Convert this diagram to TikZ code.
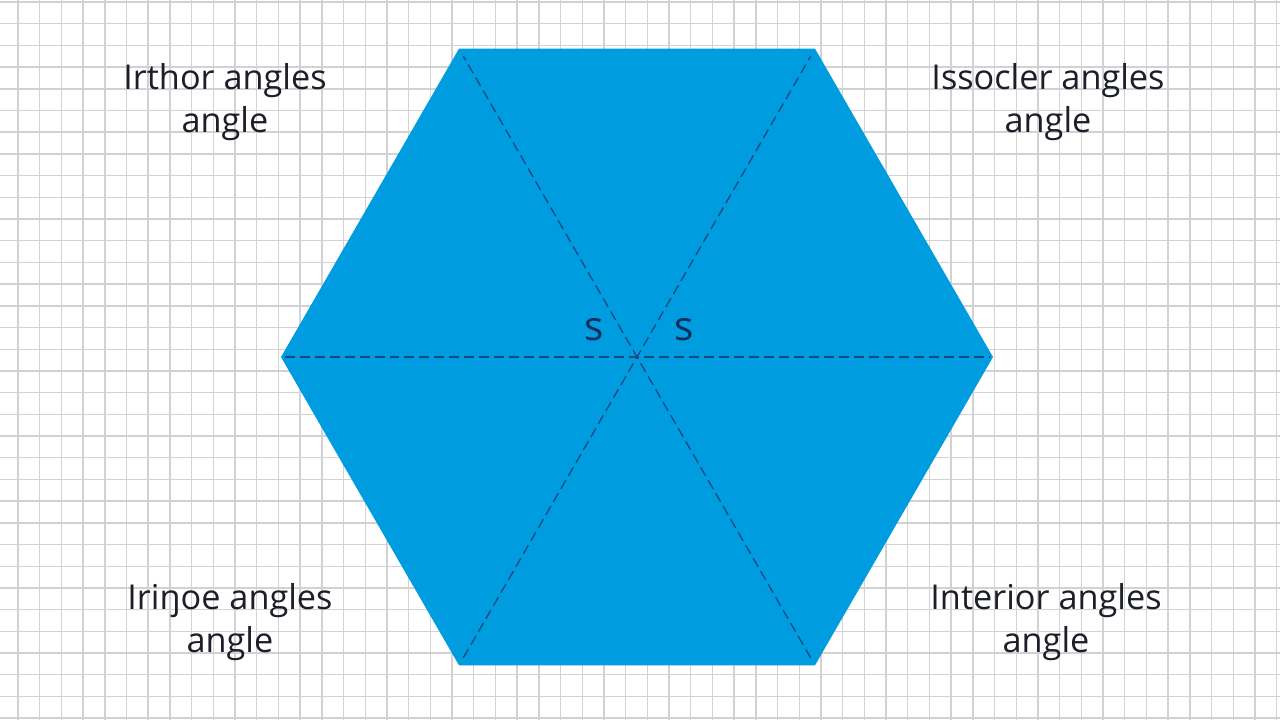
\documentclass[tikz,border=0pt]{standalone}
\usepackage{fontspec}
\setmainfont{Open Sans}
\usepackage{tikz}
\tikzset{>=latex}
\definecolor{hexblue}{RGB}{0,156,224}
\definecolor{dashblue}{RGB}{30,72,130}
\definecolor{gridgray}{RGB}{210,210,212}
\definecolor{labelink}{RGB}{28,30,40}
\definecolor{sideink}{RGB}{18,45,92}

\begin{document}
\begin{tikzpicture}[x=0.02cm,y=-0.02cm,
    gridline/.style={gridgray,line width=0.8pt},
    diag/.style={dashblue,line width=0.75pt,dash pattern=on 0.2cm off 0.1cm},
    lbl/.style={labelink,align=center,font=\fontsize{19.5}{24.5}\selectfont,inner sep=0pt},
    sidelbl/.style={sideink,font=\fontsize{23}{24}\selectfont,inner sep=0pt}]
       \useasboundingbox (0,0) rectangle (1280,720);
       \fill[white] (0,0) rectangle (1280,720);
       \foreach \i in {0,...,58} \draw[gridline] ({18+21.7*\i},0) -- ++(0,720);
       \foreach \j in {0,...,33} \draw[gridline] (0,{2+21.7*\j}) -- ++(1280,0);
       \coordinate (O) at (637,357);
       \foreach \k in {1,...,6} \coordinate (V\k) at ([shift={(O)}]60*\k:356);
       \fill[hexblue] (V1) -- (V2) -- (V3) -- (V4) -- (V5) -- (V6) -- cycle;
       \draw[diag,shorten <=5pt,shorten >=5pt] (V1) -- (V4);
       \draw[diag,shorten <=5pt,shorten >=5pt] (V2) -- (V5);
       \draw[diag,shorten <=2pt,shorten >=2pt] (V3) -- (V6);
       \node[sidelbl] (sL) at (594,330) {s};
       \node[sidelbl] (sR) at (684,330) {s};
       \node[lbl] (tl) at (225,102) {Irthor angles\\angle};
       \node[lbl] (tr) at (1048,102) {Issocler angles\\angle};
       \node[lbl] (bl) at (230,622) {Iriŋoe angles\\angle};
       \node[lbl] (br) at (1046,622) {Interior angles\\angle};
      \end{tikzpicture}
\end{document}
